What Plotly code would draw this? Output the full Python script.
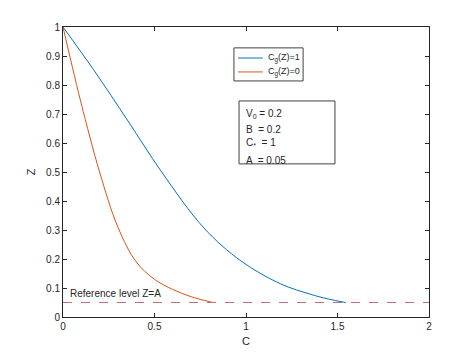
import plotly.graph_objects as go

# Curve data
c_blue = [0.0, 0.17, 0.355, 0.536, 0.77, 0.973, 1.19, 1.355, 1.45, 1.545]
z_blue = [1.0, 0.85, 0.676, 0.503, 0.307, 0.193, 0.114, 0.078, 0.062, 0.05]

c_red = [0.0, 0.05, 0.1, 0.2, 0.3, 0.4, 0.5, 0.6, 0.7, 0.82]
z_red = [1.0, 0.865, 0.735, 0.50, 0.31, 0.19, 0.13, 0.095, 0.07, 0.05]

ref_c = [0, 2]
ref_z = [0.05, 0.05]

x_ticks = [0, 0.5, 1, 1.5, 2]
x_labels = ["0", "0.5", "1", "1.5", "2"]
y_ticks = [0, 0.1, 0.2, 0.3, 0.4, 0.5, 0.6, 0.7, 0.8, 0.9, 1]
y_labels = ["0", "0.1", "0.2", "0.3", "0.4", "0.5", "0.6", "0.7", "0.8", "0.9", "1"]

series_names = ["C<sub>g</sub>(Z)=1", "C<sub>g</sub>(Z)=0"]
series_colors = ["#0072BD", "#D95319"]

param_lines = ["V<sub>0</sub> = 0.2", "B  = 0.2", "C<sub>*</sub>  = 1", "A  = 0.05"]
param_y = [0.700, 0.648, 0.600, 0.540]

FONT = "Liberation Sans, Arial, sans-serif"
AX = "#262626"

fig = go.Figure()
fig.add_trace(go.Scatter(x=c_blue, y=z_blue, mode="lines",
                         line=dict(color=series_colors[0], width=1, shape="spline"), name=series_names[0]))
fig.add_trace(go.Scatter(x=c_red, y=z_red, mode="lines",
                         line=dict(color=series_colors[1], width=1, shape="spline"), name=series_names[1]))
fig.add_trace(go.Scatter(x=ref_c, y=ref_z, mode="lines", line=dict(color="#C07070", width=1, dash="dash"),
                         name="Reference"))

fig.add_annotation(x=0.03, y=0.05, xref="x", yref="y", text="Reference level Z=A", showarrow=False,
                   xanchor="left", yanchor="bottom", yshift=2, font=dict(family=FONT, size=10, color=AX))

# Legend box (drawn manually to match the compact MATLAB legend)
fig.add_shape(type="rect", xref="paper", yref="paper", x0=0.467, x1=0.656, y0=0.814, y1=0.928,
              line=dict(color="#404040", width=1), fillcolor="white")
for name, col, yy in zip(series_names, series_colors, [0.893, 0.845]):
    fig.add_shape(type="line", xref="paper", yref="paper", x0=0.478, x1=0.546, y0=yy, y1=yy,
                  line=dict(color=col, width=1))
    fig.add_annotation(x=0.555, y=yy, xref="paper", yref="paper", text=name, showarrow=False,
                       xanchor="left", yanchor="middle", font=dict(family=FONT, size=9, color=AX))

# Parameter box
fig.add_shape(type="rect", xref="paper", yref="paper", x0=0.481, x1=0.743, y0=0.528, y1=0.745,
              line=dict(color="#404040", width=1), fillcolor="white")
for t, yy in zip(param_lines, param_y):
    fig.add_annotation(x=0.495, y=yy, xref="paper", yref="paper", text=t, showarrow=False,
                       xanchor="left", yanchor="middle", font=dict(family=FONT, size=10, color=AX))

axis_common = dict(showline=True, linecolor=AX, linewidth=1, mirror="ticks", ticks="inside", ticklen=4,
                   tickcolor=AX, showgrid=False, zeroline=False, automargin=False,
                   tickfont=dict(family=FONT, size=10, color=AX))
fig.update_xaxes(range=[0, 2], tickvals=x_ticks, ticktext=x_labels,
                 title=dict(text="C", font=dict(family=FONT, size=11, color=AX), standoff=6), **axis_common)
fig.update_yaxes(range=[0, 1], tickvals=y_ticks, ticktext=y_labels,
                 title=dict(text="Z", font=dict(family=FONT, size=11, color=AX), standoff=8), **axis_common)

fig.update_layout(
    width=474, height=355,
    margin=dict(l=55, r=53, t=19, b=46),
    paper_bgcolor="white", plot_bgcolor="white",
    font=dict(family=FONT, size=10, color=AX),
    showlegend=False,
)

fig.write_html("out.html")
